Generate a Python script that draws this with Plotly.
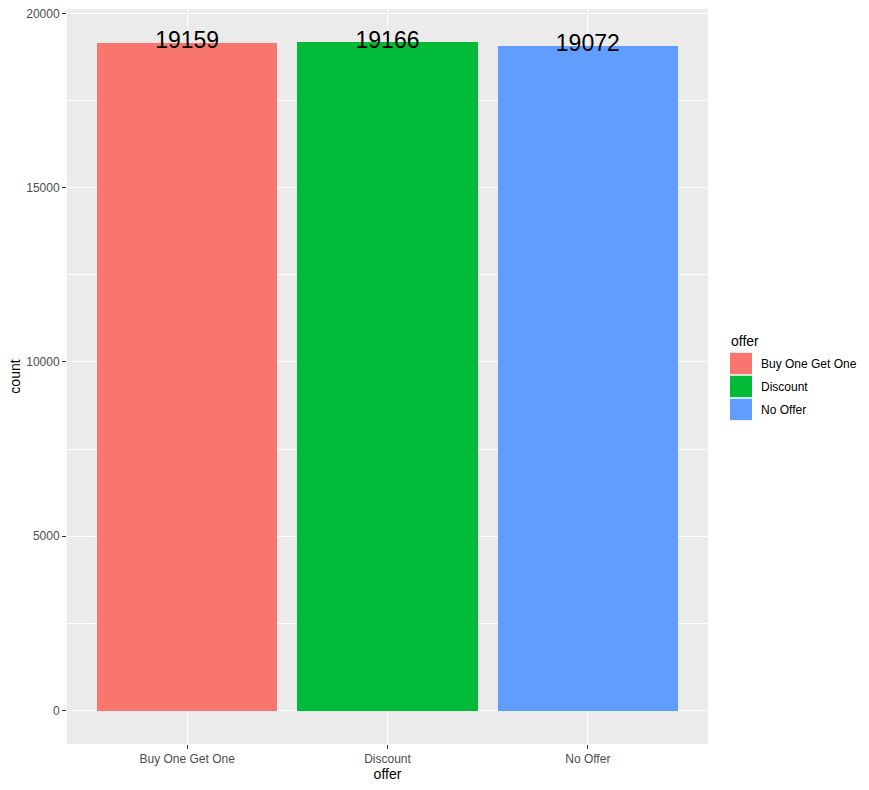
import plotly.graph_objects as go

# Data
offers = ['Buy One Get One', 'Discount', 'No Offer']
counts = [19159, 19166, 19072]
colors = ['#F8766D', '#00BA38', '#619CFF']
y_ticks = [0, 5000, 10000, 15000, 20000]

fig = go.Figure()

# bars
fig.add_trace(go.Bar(
    x=offers, y=counts, width=0.9,
    marker=dict(color=colors, line=dict(width=0)),
    showlegend=False, hoverinfo='x+y'
))

# count labels centred on the bar tops (geom_text style)
fig.add_trace(go.Scatter(
    x=offers, y=counts, mode='text',
    text=[str(c) for c in counts],
    textposition='middle center',
    textfont=dict(size=23, color='black', family='Liberation Sans, Arial'),
    showlegend=False, hoverinfo='skip'
))

# ggplot-like legend drawn by hand
px_w, px_h = 641, 737
key_w, key_h = 22 / px_w, 23 / px_h
key_x0 = (730 - 67) / px_w
key_top = (745 - 352) / px_h
for i, (name, col) in enumerate(zip(offers, colors)):
    y1 = key_top - i * key_h
    y0 = y1 - key_h
    fig.add_shape(type='rect', xref='paper', yref='paper',
                  x0=key_x0, x1=key_x0 + key_w, y0=y0 + 0.001, y1=y1 - 0.001,
                  fillcolor=col, line=dict(width=0))
    fig.add_annotation(xref='paper', yref='paper', x=(759 - 67) / px_w, y=(y0 + y1) / 2 - 0.001,
                       text=name, showarrow=False, xanchor='left', yanchor='middle',
                       font=dict(size=12, color='black'))
fig.add_annotation(xref='paper', yref='paper', x=key_x0 - 0.002, y=(745 - 341) / px_h,
                   text='offer', showarrow=False, xanchor='left', yanchor='middle',
                   font=dict(size=14, color='black'))

fig.update_layout(
    width=869, height=790,
    margin=dict(l=67, r=161, t=7, b=46),
    paper_bgcolor='white',
    plot_bgcolor='#EBEBEB',
    font=dict(family='Liberation Sans, Arial, sans-serif'),
    bargap=0,
)

fig.update_xaxes(
    type='category', range=[-0.6, 2.6],
    showgrid=True, gridcolor='white', gridwidth=1.2,
    ticks='outside', ticklen=4, tickcolor='#333333', tickwidth=1,
    tickfont=dict(size=12, color='#4D4D4D'),
    title=dict(text='offer', font=dict(size=14, color='black'), standoff=2),
    zeroline=False, showline=False
)
fig.update_yaxes(
    range=[-958, 20124],
    tickvals=y_ticks, ticktext=[str(v) for v in y_ticks],
    showgrid=True, gridcolor='white', gridwidth=1.2,
    minor=dict(tickvals=[2500, 7500, 12500, 17500], showgrid=True,
               gridcolor='white', gridwidth=0.5),
    ticks='outside', ticklen=4, tickcolor='#333333', tickwidth=1,
    tickfont=dict(size=12, color='#4D4D4D'),
    title=dict(text='count', font=dict(size=14, color='black'), standoff=2),
    zeroline=False, showline=False
)

fig.write_html('out.html', config={'displayModeBar': False},
               post_script="document.body.style.margin='0';")
